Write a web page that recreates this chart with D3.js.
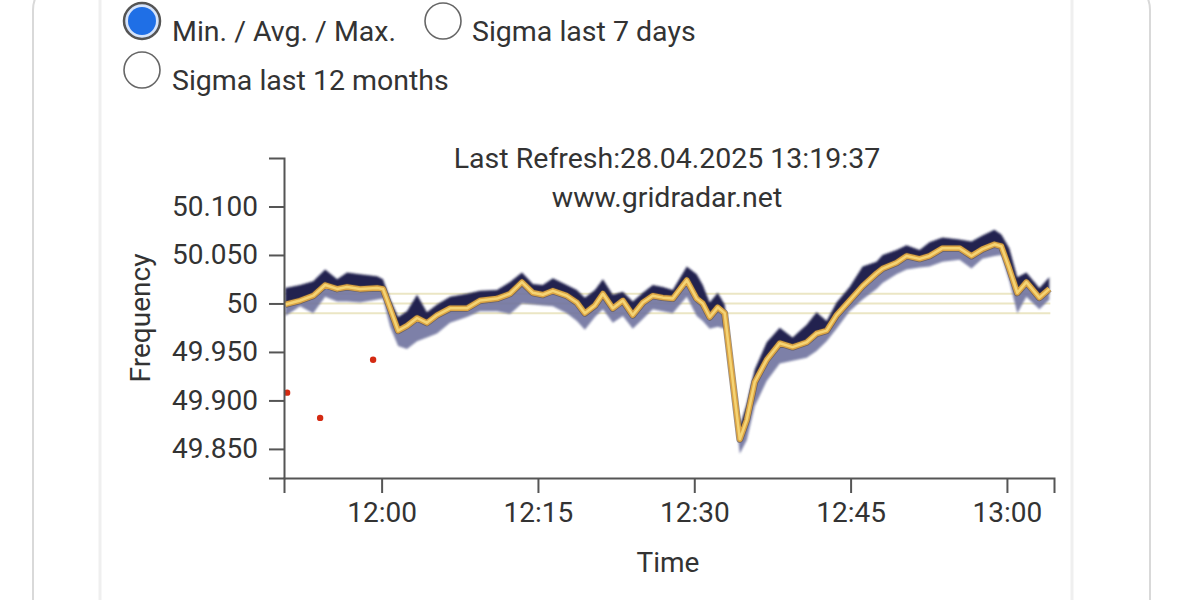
<!DOCTYPE html>
<html>
<head>
<meta charset="utf-8">
<script src="https://cdn.jsdelivr.net/npm/d3@7"></script>
<style>
  body { margin: 0; background: #fff; }
  svg { display: block; font-family: Roboto, "Noto Sans", sans-serif; }
</style>
</head>
<body>
<svg id="chart" viewBox="0 0 1200 600" width="1200" height="600"></svg>
<script>
// frequency readings (Hz) -- avg / max / min per sample
const times = ["11:50:45","11:52:11","11:53:26","11:54:35","11:55:44","11:56:41","11:57:56","11:59:34","12:00:08","12:00:49",
  "12:01:35","12:02:26","12:03:24","12:04:21","12:05:19","12:06:34","12:08:11","12:09:26","12:11:04","12:12:19",
  "12:13:28","12:14:31","12:15:28","12:16:26","12:17:46","12:18:44","12:19:30","12:20:28","12:21:14","12:22:11",
  "12:23:09","12:24:06","12:25:04","12:26:01","12:26:59","12:27:56","12:29:17","12:30:14","12:30:49","12:31:29",
  "12:32:15","12:32:55","12:33:41","12:34:22","12:35:02","12:35:48","12:36:57","12:38:12","12:39:26","12:40:47",
  "12:41:44","12:42:42","12:43:39","12:44:54","12:46:09","12:47:29","12:48:04","12:49:24","12:50:22","12:51:37",
  "12:52:34","12:53:49","12:55:27","12:56:36","12:57:39","12:58:48","12:59:28","13:00:14","13:01:00","13:01:52",
  "13:03:07","13:04:04"];
const avgFreq = [49.999,50.003,50.008,50.019,50.015,50.017,50.015,50.016,50.015,49.995,
  49.972,49.977,49.985,49.980,49.988,49.995,49.995,50.003,50.005,50.010,
  50.022,50.011,50.009,50.013,50.008,50.001,49.990,49.998,50.010,49.995,
  50.003,49.988,50.001,50.008,50.006,50.005,50.024,50.005,50.000,49.986,
  49.996,49.990,49.921,49.860,49.880,49.919,49.942,49.959,49.955,49.960,
  49.969,49.972,49.988,50.003,50.018,50.031,50.036,50.042,50.049,50.046,
  50.049,50.057,50.057,50.049,50.056,50.061,50.059,50.036,50.011,50.022,
  50.006,50.015];
const maxFreq = [50.016,50.019,50.023,50.035,50.025,50.032,50.030,50.028,50.025,50.004,
  49.986,49.992,50.009,49.991,49.999,50.007,50.010,50.013,50.014,50.022,
  50.032,50.020,50.019,50.026,50.019,50.014,50.006,50.014,50.025,50.009,
  50.012,50.002,50.011,50.019,50.017,50.014,50.038,50.030,50.019,50.001,
  50.011,49.999,49.929,49.873,49.896,49.932,49.960,49.975,49.965,49.978,
  49.991,49.982,50.001,50.017,50.038,50.043,50.050,50.055,50.060,50.055,
  50.063,50.068,50.066,50.064,50.070,50.076,50.071,50.057,50.027,50.032,
  50.016,50.027];
const minFreq = [49.987,49.997,49.990,50.007,50.002,50.002,50.001,50.004,50.005,49.976,
  49.956,49.953,49.961,49.965,49.969,49.980,49.986,49.992,49.992,49.989,
  50.000,49.999,49.998,49.997,49.990,49.982,49.973,49.986,49.994,49.980,
  49.987,49.974,49.984,49.994,49.992,49.990,50.007,49.987,49.982,49.974,
  49.976,49.974,49.910,49.845,49.859,49.894,49.920,49.938,49.941,49.944,
  49.951,49.961,49.974,49.992,50.004,50.015,50.021,50.030,50.035,50.037,
  50.038,50.043,50.045,50.036,50.046,50.049,50.050,50.023,49.990,50.007,
  49.994,50.004];

// red event markers
const eventTimes = ["11:50:56","11:54:06","11:59:11"];
const eventFreq = [49.908,49.882,49.942];

const refLines = [49.99, 50, 50.01];
const yTicks = [49.85, 49.9, 49.95, 50, 50.05, 50.1];
const radioLabels = ["Min. / Avg. / Max.", "Sigma last 7 days", "Sigma last 12 months"];

const svg = d3.select("#chart");
const parse = d3.timeParse("%H:%M:%S");

const data = times.map((t, i) => ({t: parse(t), avg: avgFreq[i], max: maxFreq[i], min: minFreq[i]}));

// card frame (phone screenshot look)
svg.append("rect")
  .attr("x", 33).attr("y", -20).attr("width", 1117).attr("height", 660)
  .attr("rx", 30).attr("fill", "#fff").attr("stroke", "#d9d9d9").attr("stroke-width", 2);
svg.append("line").attr("x1", 100).attr("x2", 100).attr("y1", 0).attr("y2", 600)
  .attr("stroke", "#efefef").attr("stroke-width", 3);
svg.append("line").attr("x1", 1072).attr("x2", 1072).attr("y1", 0).attr("y2", 600)
  .attr("stroke", "#efefef").attr("stroke-width", 3);

// radio buttons
const radios = [{cx: 142, cy: 21, on: true}, {cx: 443, cy: 21, on: false}, {cx: 142, cy: 70, on: false}];
const radioText = [{x: 172, y: 41}, {x: 472, y: 41}, {x: 172, y: 90}];
radios.forEach((r, i) => {
  const g = svg.append("g");
  if (r.on) {
    g.append("circle").attr("cx", r.cx).attr("cy", r.cy).attr("r", 18)
      .attr("fill", "#d6e4fb").attr("stroke", "#555").attr("stroke-width", 2.5);
    g.append("circle").attr("cx", r.cx).attr("cy", r.cy).attr("r", 14).attr("fill", "#1f6fe6");
  } else {
    g.append("circle").attr("cx", r.cx).attr("cy", r.cy).attr("r", 18)
      .attr("fill", "#fff").attr("stroke", "#666").attr("stroke-width", 1.6);
  }
  svg.append("text").attr("x", radioText[i].x).attr("y", radioText[i].y)
    .attr("font-size", 28.5).attr("fill", "#333").text(radioLabels[i]);
});

// scales
const x = d3.scaleTime()
  .domain([parse("11:50:38"), parse("13:04:31")])
  .range([284, 1054]);
const y = d3.scaleLinear()
  .domain([49.82, 50.15])
  .range([478, 158]);

// reference lines
svg.append("g").selectAll("line")
  .data(refLines)
  .enter()
  .append("line")
  .attr("x1", x.range()[0]).attr("x2", x(parse("13:04:10")))
  .attr("y1", d => y(d)).attr("y2", d => y(d))
  .attr("stroke", "#ebe6c4").attr("stroke-width", 2);

const defs = svg.append("defs");
defs.append("filter").attr("id", "soft")
  .append("feGaussianBlur").attr("stdDeviation", 1.3);

const curve = d3.curveLinear;

// lower band (min .. avg)
svg.append("path")
  .datum(data)
  .attr("d", d3.area().curve(curve).x(d => x(d.t)).y0(d => y(d.min)).y1(d => y(d.avg)))
  .attr("fill", "#6f739f").attr("opacity", 0.9).attr("filter", "url(#soft)");

// upper band (avg .. max)
svg.append("path")
  .datum(data)
  .attr("d", d3.area().curve(curve).x(d => x(d.t)).y0(d => y(d.avg)).y1(d => y(d.max)))
  .attr("fill", "#22244f").attr("filter", "url(#soft)");

const avgLine = d3.line().curve(curve).x(d => x(d.t)).y(d => y(d.avg));
svg.append("path").datum(data).attr("d", avgLine)
  .attr("fill", "none").attr("stroke", "#5a4a3a").attr("stroke-width", 7).attr("stroke-linejoin", "round")
  .attr("opacity", 0.6);
svg.append("path").datum(data).attr("d", avgLine)
  .attr("fill", "none").attr("stroke", "#dba443").attr("stroke-width", 5.5).attr("stroke-linejoin", "round");
svg.append("path").datum(data).attr("d", avgLine)
  .attr("fill", "none").attr("stroke", "#f5d474").attr("stroke-width", 2.5).attr("stroke-linejoin", "round");

// event dots
svg.append("g").selectAll("circle")
  .data(eventTimes.map((t, i) => ({t: parse(t), v: eventFreq[i]})))
  .enter()
  .append("circle")
  .attr("cx", d => x(d.t)).attr("cy", d => y(d.v)).attr("r", 3.2)
  .attr("fill", "#d42a12");

// axes
const fmtY = v => Math.abs(v - 50) < 1e-9 ? "50" : v.toFixed(3);
const yAxis = svg.append("g")
  .attr("transform", "translate(284,0)")
  .call(d3.axisLeft(y).tickValues(yTicks).tickFormat(fmtY).tickSize(15).tickSizeOuter(15).tickPadding(11));
const xAxis = svg.append("g")
  .attr("transform", "translate(0,478)")
  .call(d3.axisBottom(x).ticks(d3.timeMinute.every(15)).tickFormat(d3.timeFormat("%H:%M"))
    .tickSize(15).tickSizeOuter(15).tickPadding(9));

[yAxis, xAxis].forEach(a => {
  a.selectAll("path, line").attr("stroke", "#555").attr("stroke-width", 2);
  a.selectAll("text").attr("font-size", 28).attr("fill", "#333").attr("font-family", "Roboto, sans-serif");
});

// titles
svg.append("text").attr("x", 667).attr("y", 168).attr("text-anchor", "middle")
  .attr("font-size", 28.5).attr("fill", "#333").text("Last Refresh:28.04.2025 13:19:37");
svg.append("text").attr("x", 667).attr("y", 207).attr("text-anchor", "middle")
  .attr("font-size", 28.5).attr("fill", "#333").text("www.gridradar.net");
svg.append("text").attr("x", 668).attr("y", 572).attr("text-anchor", "middle")
  .attr("font-size", 28).attr("fill", "#333").text("Time");
svg.append("text").attr("transform", "translate(150,318) rotate(-90)").attr("text-anchor", "middle")
  .attr("font-size", 28).attr("fill", "#333").text("Frequency");
</script>
</body>
</html>
